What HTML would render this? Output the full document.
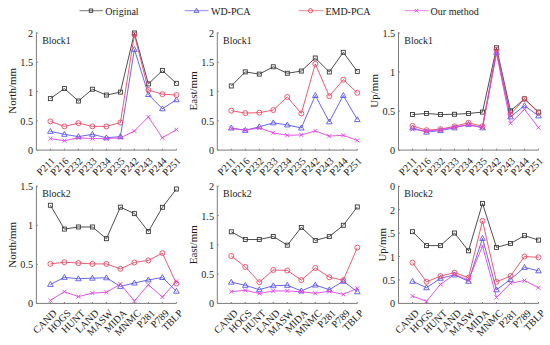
<!DOCTYPE html>
<html><head><meta charset="utf-8"><style>
html,body{margin:0;padding:0;background:#fff;}
body{width:550px;height:345px;overflow:hidden;}
svg{display:block;}
text{font-family:"Liberation Serif", serif;font-size:10.2px;fill:#1a1a1a;}
.yl{font-size:11px;}
.lg{font-size:10px;}
.bk{font-size:9.9px;}
</style></head><body>
<svg width="550" height="345" viewBox="0 0 550 345">
<rect width="550" height="345" fill="#fff"/>
<path d="M36.4 32.4V150.1H176.4" fill="none" stroke="#7c7c7c" stroke-width="1"/>
<path d="M36.4 150.1H37.8" stroke="#7c7c7c" stroke-width="1"/>
<text x="33.1" y="154.1" text-anchor="end">0</text>
<path d="M36.4 120.82H37.8" stroke="#7c7c7c" stroke-width="1"/>
<text x="33.1" y="124.82" text-anchor="end">0.5</text>
<path d="M36.4 91.55H37.8" stroke="#7c7c7c" stroke-width="1"/>
<text x="33.1" y="95.55" text-anchor="end">1</text>
<path d="M36.4 62.28H37.8" stroke="#7c7c7c" stroke-width="1"/>
<text x="33.1" y="66.28" text-anchor="end">1.5</text>
<path d="M36.4 33H37.8" stroke="#7c7c7c" stroke-width="1"/>
<text x="33.1" y="37" text-anchor="end">2</text>
<path d="M50.4 150.1V148.7" stroke="#7c7c7c" stroke-width="1"/>
<text x="55.4" y="161.7" text-anchor="end" transform="rotate(-45 55.4 161.7)">P211</text>
<path d="M64.4 150.1V148.7" stroke="#7c7c7c" stroke-width="1"/>
<text x="69.4" y="161.7" text-anchor="end" transform="rotate(-45 69.4 161.7)">P216</text>
<path d="M78.4 150.1V148.7" stroke="#7c7c7c" stroke-width="1"/>
<text x="83.4" y="161.7" text-anchor="end" transform="rotate(-45 83.4 161.7)">P232</text>
<path d="M92.4 150.1V148.7" stroke="#7c7c7c" stroke-width="1"/>
<text x="97.4" y="161.7" text-anchor="end" transform="rotate(-45 97.4 161.7)">P233</text>
<path d="M106.4 150.1V148.7" stroke="#7c7c7c" stroke-width="1"/>
<text x="111.4" y="161.7" text-anchor="end" transform="rotate(-45 111.4 161.7)">P234</text>
<path d="M120.4 150.1V148.7" stroke="#7c7c7c" stroke-width="1"/>
<text x="125.4" y="161.7" text-anchor="end" transform="rotate(-45 125.4 161.7)">P235</text>
<path d="M134.4 150.1V148.7" stroke="#7c7c7c" stroke-width="1"/>
<text x="139.4" y="161.7" text-anchor="end" transform="rotate(-45 139.4 161.7)">P242</text>
<path d="M148.4 150.1V148.7" stroke="#7c7c7c" stroke-width="1"/>
<text x="153.4" y="161.7" text-anchor="end" transform="rotate(-45 153.4 161.7)">P243</text>
<path d="M162.4 150.1V148.7" stroke="#7c7c7c" stroke-width="1"/>
<text x="167.4" y="161.7" text-anchor="end" transform="rotate(-45 167.4 161.7)">P244</text>
<path d="M176.4 150.1V148.7" stroke="#7c7c7c" stroke-width="1"/>
<text x="181.4" y="161.7" text-anchor="end" transform="rotate(-45 181.4 161.7)">P251</text>
<text class="yl" x="15.9" y="90.85" text-anchor="middle" transform="rotate(-90 15.9 90.85)">North/mm</text>
<text class="bk" x="42.2" y="43.6">Block1</text>
<path d="M50.4 98.63L64.4 88.56L78.4 101.04L92.4 89.21L106.4 95.06L120.4 92.14L134.4 33L148.4 83.94L162.4 70.47L176.4 83.35" fill="none" stroke="#3a3a3a" stroke-width="0.9"/>
<rect x="48.4" y="96.63" width="4" height="4" fill="none" stroke="#3a3a3a" stroke-width="0.9"/>
<rect x="62.4" y="86.56" width="4" height="4" fill="none" stroke="#3a3a3a" stroke-width="0.9"/>
<rect x="76.4" y="99.04" width="4" height="4" fill="none" stroke="#3a3a3a" stroke-width="0.9"/>
<rect x="90.4" y="87.21" width="4" height="4" fill="none" stroke="#3a3a3a" stroke-width="0.9"/>
<rect x="104.4" y="93.06" width="4" height="4" fill="none" stroke="#3a3a3a" stroke-width="0.9"/>
<rect x="118.4" y="90.14" width="4" height="4" fill="none" stroke="#3a3a3a" stroke-width="0.9"/>
<rect x="132.4" y="31" width="4" height="4" fill="none" stroke="#3a3a3a" stroke-width="0.9"/>
<rect x="146.4" y="81.94" width="4" height="4" fill="none" stroke="#3a3a3a" stroke-width="0.9"/>
<rect x="160.4" y="68.47" width="4" height="4" fill="none" stroke="#3a3a3a" stroke-width="0.9"/>
<rect x="174.4" y="81.35" width="4" height="4" fill="none" stroke="#3a3a3a" stroke-width="0.9"/>
<path d="M50.4 131.36L64.4 134.29L78.4 136.63L92.4 134.29L106.4 137.8L120.4 136.63L134.4 49.39L148.4 94.48L162.4 108.76L176.4 99.75" fill="none" stroke="#5a56e8" stroke-width="0.9"/>
<path d="M50.4 128.46L53.2 133.36L47.6 133.36Z" fill="none" stroke="#5a56e8" stroke-width="0.9"/>
<path d="M64.4 131.39L67.2 136.29L61.6 136.29Z" fill="none" stroke="#5a56e8" stroke-width="0.9"/>
<path d="M78.4 133.73L81.2 138.63L75.6 138.63Z" fill="none" stroke="#5a56e8" stroke-width="0.9"/>
<path d="M92.4 131.39L95.2 136.29L89.6 136.29Z" fill="none" stroke="#5a56e8" stroke-width="0.9"/>
<path d="M106.4 134.9L109.2 139.8L103.6 139.8Z" fill="none" stroke="#5a56e8" stroke-width="0.9"/>
<path d="M120.4 133.73L123.2 138.63L117.6 138.63Z" fill="none" stroke="#5a56e8" stroke-width="0.9"/>
<path d="M134.4 46.49L137.2 51.39L131.6 51.39Z" fill="none" stroke="#5a56e8" stroke-width="0.9"/>
<path d="M148.4 91.58L151.2 96.48L145.6 96.48Z" fill="none" stroke="#5a56e8" stroke-width="0.9"/>
<path d="M162.4 105.86L165.2 110.76L159.6 110.76Z" fill="none" stroke="#5a56e8" stroke-width="0.9"/>
<path d="M176.4 96.85L179.2 101.75L173.6 101.75Z" fill="none" stroke="#5a56e8" stroke-width="0.9"/>
<path d="M50.4 121.41L64.4 126.39L78.4 123.17L92.4 126.39L106.4 126.39L120.4 122.58L134.4 34.76L148.4 90.03L162.4 94.18L176.4 95.06" fill="none" stroke="#e64a64" stroke-width="0.9"/>
<circle cx="50.4" cy="121.41" r="2.5" fill="none" stroke="#e64a64" stroke-width="0.9"/>
<circle cx="64.4" cy="126.39" r="2.5" fill="none" stroke="#e64a64" stroke-width="0.9"/>
<circle cx="78.4" cy="123.17" r="2.5" fill="none" stroke="#e64a64" stroke-width="0.9"/>
<circle cx="92.4" cy="126.39" r="2.5" fill="none" stroke="#e64a64" stroke-width="0.9"/>
<circle cx="106.4" cy="126.39" r="2.5" fill="none" stroke="#e64a64" stroke-width="0.9"/>
<circle cx="120.4" cy="122.58" r="2.5" fill="none" stroke="#e64a64" stroke-width="0.9"/>
<circle cx="134.4" cy="34.76" r="2.5" fill="none" stroke="#e64a64" stroke-width="0.9"/>
<circle cx="148.4" cy="90.03" r="2.5" fill="none" stroke="#e64a64" stroke-width="0.9"/>
<circle cx="162.4" cy="94.18" r="2.5" fill="none" stroke="#e64a64" stroke-width="0.9"/>
<circle cx="176.4" cy="95.06" r="2.5" fill="none" stroke="#e64a64" stroke-width="0.9"/>
<path d="M50.4 138.57L64.4 140.73L78.4 137.8L92.4 138.57L106.4 138.57L120.4 137.8L134.4 131.07L148.4 116.9L162.4 137.8L176.4 129.61" fill="none" stroke="#dc44e0" stroke-width="0.9"/>
<path d="M48.4 136.57L52.4 140.57M52.4 136.57L48.4 140.57" stroke="#dc44e0" stroke-width="0.9"/>
<path d="M62.4 138.73L66.4 142.73M66.4 138.73L62.4 142.73" stroke="#dc44e0" stroke-width="0.9"/>
<path d="M76.4 135.8L80.4 139.8M80.4 135.8L76.4 139.8" stroke="#dc44e0" stroke-width="0.9"/>
<path d="M90.4 136.57L94.4 140.57M94.4 136.57L90.4 140.57" stroke="#dc44e0" stroke-width="0.9"/>
<path d="M104.4 136.57L108.4 140.57M108.4 136.57L104.4 140.57" stroke="#dc44e0" stroke-width="0.9"/>
<path d="M118.4 135.8L122.4 139.8M122.4 135.8L118.4 139.8" stroke="#dc44e0" stroke-width="0.9"/>
<path d="M132.4 129.07L136.4 133.07M136.4 129.07L132.4 133.07" stroke="#dc44e0" stroke-width="0.9"/>
<path d="M146.4 114.9L150.4 118.9M150.4 114.9L146.4 118.9" stroke="#dc44e0" stroke-width="0.9"/>
<path d="M160.4 135.8L164.4 139.8M164.4 135.8L160.4 139.8" stroke="#dc44e0" stroke-width="0.9"/>
<path d="M174.4 127.61L178.4 131.61M178.4 127.61L174.4 131.61" stroke="#dc44e0" stroke-width="0.9"/>
<path d="M217.3 32.4V150.1H357.3" fill="none" stroke="#7c7c7c" stroke-width="1"/>
<path d="M217.3 150.1H218.7" stroke="#7c7c7c" stroke-width="1"/>
<text x="214" y="154.1" text-anchor="end">0</text>
<path d="M217.3 120.82H218.7" stroke="#7c7c7c" stroke-width="1"/>
<text x="214" y="124.82" text-anchor="end">0.5</text>
<path d="M217.3 91.55H218.7" stroke="#7c7c7c" stroke-width="1"/>
<text x="214" y="95.55" text-anchor="end">1</text>
<path d="M217.3 62.28H218.7" stroke="#7c7c7c" stroke-width="1"/>
<text x="214" y="66.28" text-anchor="end">1.5</text>
<path d="M217.3 33H218.7" stroke="#7c7c7c" stroke-width="1"/>
<text x="214" y="37" text-anchor="end">2</text>
<path d="M231.3 150.1V148.7" stroke="#7c7c7c" stroke-width="1"/>
<text x="236.3" y="161.7" text-anchor="end" transform="rotate(-45 236.3 161.7)">P211</text>
<path d="M245.3 150.1V148.7" stroke="#7c7c7c" stroke-width="1"/>
<text x="250.3" y="161.7" text-anchor="end" transform="rotate(-45 250.3 161.7)">P216</text>
<path d="M259.3 150.1V148.7" stroke="#7c7c7c" stroke-width="1"/>
<text x="264.3" y="161.7" text-anchor="end" transform="rotate(-45 264.3 161.7)">P232</text>
<path d="M273.3 150.1V148.7" stroke="#7c7c7c" stroke-width="1"/>
<text x="278.3" y="161.7" text-anchor="end" transform="rotate(-45 278.3 161.7)">P233</text>
<path d="M287.3 150.1V148.7" stroke="#7c7c7c" stroke-width="1"/>
<text x="292.3" y="161.7" text-anchor="end" transform="rotate(-45 292.3 161.7)">P234</text>
<path d="M301.3 150.1V148.7" stroke="#7c7c7c" stroke-width="1"/>
<text x="306.3" y="161.7" text-anchor="end" transform="rotate(-45 306.3 161.7)">P235</text>
<path d="M315.3 150.1V148.7" stroke="#7c7c7c" stroke-width="1"/>
<text x="320.3" y="161.7" text-anchor="end" transform="rotate(-45 320.3 161.7)">P242</text>
<path d="M329.3 150.1V148.7" stroke="#7c7c7c" stroke-width="1"/>
<text x="334.3" y="161.7" text-anchor="end" transform="rotate(-45 334.3 161.7)">P243</text>
<path d="M343.3 150.1V148.7" stroke="#7c7c7c" stroke-width="1"/>
<text x="348.3" y="161.7" text-anchor="end" transform="rotate(-45 348.3 161.7)">P244</text>
<path d="M357.3 150.1V148.7" stroke="#7c7c7c" stroke-width="1"/>
<text x="362.3" y="161.7" text-anchor="end" transform="rotate(-45 362.3 161.7)">P251</text>
<text class="yl" x="196.8" y="90.85" text-anchor="middle" transform="rotate(-90 196.8 90.85)">East/mm</text>
<text class="bk" x="223.1" y="43.6">Block1</text>
<path d="M231.3 85.99L245.3 71.88L259.3 74.1L273.3 66.78L287.3 73.28L301.3 71.06L315.3 58L329.3 71.99L343.3 52.32L357.3 71.41" fill="none" stroke="#3a3a3a" stroke-width="0.9"/>
<rect x="229.3" y="83.99" width="4" height="4" fill="none" stroke="#3a3a3a" stroke-width="0.9"/>
<rect x="243.3" y="69.88" width="4" height="4" fill="none" stroke="#3a3a3a" stroke-width="0.9"/>
<rect x="257.3" y="72.1" width="4" height="4" fill="none" stroke="#3a3a3a" stroke-width="0.9"/>
<rect x="271.3" y="64.78" width="4" height="4" fill="none" stroke="#3a3a3a" stroke-width="0.9"/>
<rect x="285.3" y="71.28" width="4" height="4" fill="none" stroke="#3a3a3a" stroke-width="0.9"/>
<rect x="299.3" y="69.06" width="4" height="4" fill="none" stroke="#3a3a3a" stroke-width="0.9"/>
<rect x="313.3" y="56" width="4" height="4" fill="none" stroke="#3a3a3a" stroke-width="0.9"/>
<rect x="327.3" y="69.99" width="4" height="4" fill="none" stroke="#3a3a3a" stroke-width="0.9"/>
<rect x="341.3" y="50.32" width="4" height="4" fill="none" stroke="#3a3a3a" stroke-width="0.9"/>
<rect x="355.3" y="69.41" width="4" height="4" fill="none" stroke="#3a3a3a" stroke-width="0.9"/>
<path d="M231.3 128.03L245.3 130.31L259.3 126.8L273.3 122.82L287.3 124.92L301.3 127.97L315.3 95.47L329.3 121.82L343.3 95.47L357.3 119.6" fill="none" stroke="#5a56e8" stroke-width="0.9"/>
<path d="M231.3 125.13L234.1 130.03L228.5 130.03Z" fill="none" stroke="#5a56e8" stroke-width="0.9"/>
<path d="M245.3 127.41L248.1 132.31L242.5 132.31Z" fill="none" stroke="#5a56e8" stroke-width="0.9"/>
<path d="M259.3 123.9L262.1 128.8L256.5 128.8Z" fill="none" stroke="#5a56e8" stroke-width="0.9"/>
<path d="M273.3 119.92L276.1 124.82L270.5 124.82Z" fill="none" stroke="#5a56e8" stroke-width="0.9"/>
<path d="M287.3 122.02L290.1 126.92L284.5 126.92Z" fill="none" stroke="#5a56e8" stroke-width="0.9"/>
<path d="M301.3 125.07L304.1 129.97L298.5 129.97Z" fill="none" stroke="#5a56e8" stroke-width="0.9"/>
<path d="M315.3 92.57L318.1 97.47L312.5 97.47Z" fill="none" stroke="#5a56e8" stroke-width="0.9"/>
<path d="M329.3 118.92L332.1 123.82L326.5 123.82Z" fill="none" stroke="#5a56e8" stroke-width="0.9"/>
<path d="M343.3 92.57L346.1 97.47L340.5 97.47Z" fill="none" stroke="#5a56e8" stroke-width="0.9"/>
<path d="M357.3 116.7L360.1 121.6L354.5 121.6Z" fill="none" stroke="#5a56e8" stroke-width="0.9"/>
<path d="M231.3 110.7L245.3 113.1L259.3 112.63L273.3 110.05L287.3 96.94L301.3 113.45L315.3 63.91L329.3 96.18L343.3 79.72L357.3 92.84" fill="none" stroke="#e64a64" stroke-width="0.9"/>
<circle cx="231.3" cy="110.7" r="2.5" fill="none" stroke="#e64a64" stroke-width="0.9"/>
<circle cx="245.3" cy="113.1" r="2.5" fill="none" stroke="#e64a64" stroke-width="0.9"/>
<circle cx="259.3" cy="112.63" r="2.5" fill="none" stroke="#e64a64" stroke-width="0.9"/>
<circle cx="273.3" cy="110.05" r="2.5" fill="none" stroke="#e64a64" stroke-width="0.9"/>
<circle cx="287.3" cy="96.94" r="2.5" fill="none" stroke="#e64a64" stroke-width="0.9"/>
<circle cx="301.3" cy="113.45" r="2.5" fill="none" stroke="#e64a64" stroke-width="0.9"/>
<circle cx="315.3" cy="63.91" r="2.5" fill="none" stroke="#e64a64" stroke-width="0.9"/>
<circle cx="329.3" cy="96.18" r="2.5" fill="none" stroke="#e64a64" stroke-width="0.9"/>
<circle cx="343.3" cy="79.72" r="2.5" fill="none" stroke="#e64a64" stroke-width="0.9"/>
<circle cx="357.3" cy="92.84" r="2.5" fill="none" stroke="#e64a64" stroke-width="0.9"/>
<path d="M231.3 128.44L245.3 130.19L259.3 127.85L273.3 132.89L287.3 135.29L301.3 134.94L315.3 130.9L329.3 136.11L343.3 135.23L357.3 140.38" fill="none" stroke="#dc44e0" stroke-width="0.9"/>
<path d="M229.3 126.44L233.3 130.44M233.3 126.44L229.3 130.44" stroke="#dc44e0" stroke-width="0.9"/>
<path d="M243.3 128.19L247.3 132.19M247.3 128.19L243.3 132.19" stroke="#dc44e0" stroke-width="0.9"/>
<path d="M257.3 125.85L261.3 129.85M261.3 125.85L257.3 129.85" stroke="#dc44e0" stroke-width="0.9"/>
<path d="M271.3 130.89L275.3 134.89M275.3 130.89L271.3 134.89" stroke="#dc44e0" stroke-width="0.9"/>
<path d="M285.3 133.29L289.3 137.29M289.3 133.29L285.3 137.29" stroke="#dc44e0" stroke-width="0.9"/>
<path d="M299.3 132.94L303.3 136.94M303.3 132.94L299.3 136.94" stroke="#dc44e0" stroke-width="0.9"/>
<path d="M313.3 128.9L317.3 132.9M317.3 128.9L313.3 132.9" stroke="#dc44e0" stroke-width="0.9"/>
<path d="M327.3 134.11L331.3 138.11M331.3 134.11L327.3 138.11" stroke="#dc44e0" stroke-width="0.9"/>
<path d="M341.3 133.23L345.3 137.23M345.3 133.23L341.3 137.23" stroke="#dc44e0" stroke-width="0.9"/>
<path d="M355.3 138.38L359.3 142.38M359.3 138.38L355.3 142.38" stroke="#dc44e0" stroke-width="0.9"/>
<path d="M398.5 32.4V150.1H538.5" fill="none" stroke="#7c7c7c" stroke-width="1"/>
<path d="M398.5 150.1H399.9" stroke="#7c7c7c" stroke-width="1"/>
<text x="395.2" y="154.1" text-anchor="end">0</text>
<path d="M398.5 111.07H399.9" stroke="#7c7c7c" stroke-width="1"/>
<text x="395.2" y="115.07" text-anchor="end">0.5</text>
<path d="M398.5 72.03H399.9" stroke="#7c7c7c" stroke-width="1"/>
<text x="395.2" y="76.03" text-anchor="end">1</text>
<path d="M398.5 33H399.9" stroke="#7c7c7c" stroke-width="1"/>
<text x="395.2" y="37" text-anchor="end">1.5</text>
<path d="M412.5 150.1V148.7" stroke="#7c7c7c" stroke-width="1"/>
<text x="417.5" y="161.7" text-anchor="end" transform="rotate(-45 417.5 161.7)">P211</text>
<path d="M426.5 150.1V148.7" stroke="#7c7c7c" stroke-width="1"/>
<text x="431.5" y="161.7" text-anchor="end" transform="rotate(-45 431.5 161.7)">P216</text>
<path d="M440.5 150.1V148.7" stroke="#7c7c7c" stroke-width="1"/>
<text x="445.5" y="161.7" text-anchor="end" transform="rotate(-45 445.5 161.7)">P232</text>
<path d="M454.5 150.1V148.7" stroke="#7c7c7c" stroke-width="1"/>
<text x="459.5" y="161.7" text-anchor="end" transform="rotate(-45 459.5 161.7)">P233</text>
<path d="M468.5 150.1V148.7" stroke="#7c7c7c" stroke-width="1"/>
<text x="473.5" y="161.7" text-anchor="end" transform="rotate(-45 473.5 161.7)">P234</text>
<path d="M482.5 150.1V148.7" stroke="#7c7c7c" stroke-width="1"/>
<text x="487.5" y="161.7" text-anchor="end" transform="rotate(-45 487.5 161.7)">P235</text>
<path d="M496.5 150.1V148.7" stroke="#7c7c7c" stroke-width="1"/>
<text x="501.5" y="161.7" text-anchor="end" transform="rotate(-45 501.5 161.7)">P242</text>
<path d="M510.5 150.1V148.7" stroke="#7c7c7c" stroke-width="1"/>
<text x="515.5" y="161.7" text-anchor="end" transform="rotate(-45 515.5 161.7)">P243</text>
<path d="M524.5 150.1V148.7" stroke="#7c7c7c" stroke-width="1"/>
<text x="529.5" y="161.7" text-anchor="end" transform="rotate(-45 529.5 161.7)">P244</text>
<path d="M538.5 150.1V148.7" stroke="#7c7c7c" stroke-width="1"/>
<text x="543.5" y="161.7" text-anchor="end" transform="rotate(-45 543.5 161.7)">P251</text>
<text class="yl" x="378" y="90.85" text-anchor="middle" transform="rotate(-90 378 90.85)">Up/mm</text>
<text class="bk" x="404.3" y="43.6">Block1</text>
<path d="M412.5 114.5L426.5 113.49L440.5 114.5L454.5 114.27L468.5 113.49L482.5 112.08L496.5 47.75L510.5 110.83L524.5 98.89L538.5 112.08" fill="none" stroke="#3a3a3a" stroke-width="0.9"/>
<rect x="410.5" y="112.5" width="4" height="4" fill="none" stroke="#3a3a3a" stroke-width="0.9"/>
<rect x="424.5" y="111.49" width="4" height="4" fill="none" stroke="#3a3a3a" stroke-width="0.9"/>
<rect x="438.5" y="112.5" width="4" height="4" fill="none" stroke="#3a3a3a" stroke-width="0.9"/>
<rect x="452.5" y="112.27" width="4" height="4" fill="none" stroke="#3a3a3a" stroke-width="0.9"/>
<rect x="466.5" y="111.49" width="4" height="4" fill="none" stroke="#3a3a3a" stroke-width="0.9"/>
<rect x="480.5" y="110.08" width="4" height="4" fill="none" stroke="#3a3a3a" stroke-width="0.9"/>
<rect x="494.5" y="45.75" width="4" height="4" fill="none" stroke="#3a3a3a" stroke-width="0.9"/>
<rect x="508.5" y="108.83" width="4" height="4" fill="none" stroke="#3a3a3a" stroke-width="0.9"/>
<rect x="522.5" y="96.89" width="4" height="4" fill="none" stroke="#3a3a3a" stroke-width="0.9"/>
<rect x="536.5" y="110.08" width="4" height="4" fill="none" stroke="#3a3a3a" stroke-width="0.9"/>
<path d="M412.5 127.85L426.5 132.14L440.5 130.58L454.5 127.85L468.5 124.34L482.5 127.85L496.5 52.36L510.5 116.92L524.5 105.68L538.5 115.91" fill="none" stroke="#5a56e8" stroke-width="0.9"/>
<path d="M412.5 124.95L415.3 129.85L409.7 129.85Z" fill="none" stroke="#5a56e8" stroke-width="0.9"/>
<path d="M426.5 129.24L429.3 134.14L423.7 134.14Z" fill="none" stroke="#5a56e8" stroke-width="0.9"/>
<path d="M440.5 127.68L443.3 132.58L437.7 132.58Z" fill="none" stroke="#5a56e8" stroke-width="0.9"/>
<path d="M454.5 124.95L457.3 129.85L451.7 129.85Z" fill="none" stroke="#5a56e8" stroke-width="0.9"/>
<path d="M468.5 121.44L471.3 126.34L465.7 126.34Z" fill="none" stroke="#5a56e8" stroke-width="0.9"/>
<path d="M482.5 124.95L485.3 129.85L479.7 129.85Z" fill="none" stroke="#5a56e8" stroke-width="0.9"/>
<path d="M496.5 49.46L499.3 54.36L493.7 54.36Z" fill="none" stroke="#5a56e8" stroke-width="0.9"/>
<path d="M510.5 114.02L513.3 118.92L507.7 118.92Z" fill="none" stroke="#5a56e8" stroke-width="0.9"/>
<path d="M524.5 102.78L527.3 107.68L521.7 107.68Z" fill="none" stroke="#5a56e8" stroke-width="0.9"/>
<path d="M538.5 113.01L541.3 117.91L535.7 117.91Z" fill="none" stroke="#5a56e8" stroke-width="0.9"/>
<path d="M412.5 125.9L426.5 130.19L440.5 129.18L454.5 126.29L468.5 122.78L482.5 126.29L496.5 49.63L510.5 114.35L524.5 98.89L538.5 112.78" fill="none" stroke="#e64a64" stroke-width="0.9"/>
<circle cx="412.5" cy="125.9" r="2.5" fill="none" stroke="#e64a64" stroke-width="0.9"/>
<circle cx="426.5" cy="130.19" r="2.5" fill="none" stroke="#e64a64" stroke-width="0.9"/>
<circle cx="440.5" cy="129.18" r="2.5" fill="none" stroke="#e64a64" stroke-width="0.9"/>
<circle cx="454.5" cy="126.29" r="2.5" fill="none" stroke="#e64a64" stroke-width="0.9"/>
<circle cx="468.5" cy="122.78" r="2.5" fill="none" stroke="#e64a64" stroke-width="0.9"/>
<circle cx="482.5" cy="126.29" r="2.5" fill="none" stroke="#e64a64" stroke-width="0.9"/>
<circle cx="496.5" cy="49.63" r="2.5" fill="none" stroke="#e64a64" stroke-width="0.9"/>
<circle cx="510.5" cy="114.35" r="2.5" fill="none" stroke="#e64a64" stroke-width="0.9"/>
<circle cx="524.5" cy="98.89" r="2.5" fill="none" stroke="#e64a64" stroke-width="0.9"/>
<circle cx="538.5" cy="112.78" r="2.5" fill="none" stroke="#e64a64" stroke-width="0.9"/>
<path d="M412.5 129.41L426.5 130.97L440.5 129.8L454.5 126.91L468.5 125.12L482.5 127.46L496.5 53.06L510.5 123.32L524.5 109.27L538.5 127.62" fill="none" stroke="#dc44e0" stroke-width="0.9"/>
<path d="M410.5 127.41L414.5 131.41M414.5 127.41L410.5 131.41" stroke="#dc44e0" stroke-width="0.9"/>
<path d="M424.5 128.97L428.5 132.97M428.5 128.97L424.5 132.97" stroke="#dc44e0" stroke-width="0.9"/>
<path d="M438.5 127.8L442.5 131.8M442.5 127.8L438.5 131.8" stroke="#dc44e0" stroke-width="0.9"/>
<path d="M452.5 124.91L456.5 128.91M456.5 124.91L452.5 128.91" stroke="#dc44e0" stroke-width="0.9"/>
<path d="M466.5 123.12L470.5 127.12M470.5 123.12L466.5 127.12" stroke="#dc44e0" stroke-width="0.9"/>
<path d="M480.5 125.46L484.5 129.46M484.5 125.46L480.5 129.46" stroke="#dc44e0" stroke-width="0.9"/>
<path d="M494.5 51.06L498.5 55.06M498.5 51.06L494.5 55.06" stroke="#dc44e0" stroke-width="0.9"/>
<path d="M508.5 121.32L512.5 125.32M512.5 121.32L508.5 125.32" stroke="#dc44e0" stroke-width="0.9"/>
<path d="M522.5 107.27L526.5 111.27M526.5 107.27L522.5 111.27" stroke="#dc44e0" stroke-width="0.9"/>
<path d="M536.5 125.62L540.5 129.62M540.5 125.62L536.5 129.62" stroke="#dc44e0" stroke-width="0.9"/>
<path d="M36.4 185.7V303.4H176.4" fill="none" stroke="#7c7c7c" stroke-width="1"/>
<path d="M36.4 303.4H37.8" stroke="#7c7c7c" stroke-width="1"/>
<text x="33.1" y="307.4" text-anchor="end">0</text>
<path d="M36.4 264.37H37.8" stroke="#7c7c7c" stroke-width="1"/>
<text x="33.1" y="268.37" text-anchor="end">0.5</text>
<path d="M36.4 225.33H37.8" stroke="#7c7c7c" stroke-width="1"/>
<text x="33.1" y="229.33" text-anchor="end">1</text>
<path d="M36.4 186.3H37.8" stroke="#7c7c7c" stroke-width="1"/>
<text x="33.1" y="190.3" text-anchor="end">1.5</text>
<path d="M50.4 303.4V302" stroke="#7c7c7c" stroke-width="1"/>
<text x="57.5" y="313.8" text-anchor="end" transform="rotate(-45 57.5 313.8)">CAND</text>
<path d="M64.4 303.4V302" stroke="#7c7c7c" stroke-width="1"/>
<text x="71.5" y="313.8" text-anchor="end" transform="rotate(-45 71.5 313.8)">HOGS</text>
<path d="M78.4 303.4V302" stroke="#7c7c7c" stroke-width="1"/>
<text x="85.5" y="313.8" text-anchor="end" transform="rotate(-45 85.5 313.8)">HUNT</text>
<path d="M92.4 303.4V302" stroke="#7c7c7c" stroke-width="1"/>
<text x="99.5" y="313.8" text-anchor="end" transform="rotate(-45 99.5 313.8)">LAND</text>
<path d="M106.4 303.4V302" stroke="#7c7c7c" stroke-width="1"/>
<text x="113.5" y="313.8" text-anchor="end" transform="rotate(-45 113.5 313.8)">MASW</text>
<path d="M120.4 303.4V302" stroke="#7c7c7c" stroke-width="1"/>
<text x="127.5" y="313.8" text-anchor="end" transform="rotate(-45 127.5 313.8)">MIDA</text>
<path d="M134.4 303.4V302" stroke="#7c7c7c" stroke-width="1"/>
<text x="141.5" y="313.8" text-anchor="end" transform="rotate(-45 141.5 313.8)">MNMC</text>
<path d="M148.4 303.4V302" stroke="#7c7c7c" stroke-width="1"/>
<text x="155.5" y="313.8" text-anchor="end" transform="rotate(-45 155.5 313.8)">P281</text>
<path d="M162.4 303.4V302" stroke="#7c7c7c" stroke-width="1"/>
<text x="169.5" y="313.8" text-anchor="end" transform="rotate(-45 169.5 313.8)">P789</text>
<path d="M176.4 303.4V302" stroke="#7c7c7c" stroke-width="1"/>
<text x="183.5" y="313.8" text-anchor="end" transform="rotate(-45 183.5 313.8)">TBLP</text>
<text class="yl" x="15.9" y="244.75" text-anchor="middle" transform="rotate(-90 15.9 244.75)">North/mm</text>
<text class="bk" x="42.2" y="196.9">Block2</text>
<path d="M50.4 205.27L64.4 229.08L78.4 226.97L92.4 226.97L106.4 238.68L120.4 207.14L134.4 213.62L148.4 231.5L162.4 207.3L176.4 189.03" fill="none" stroke="#3a3a3a" stroke-width="0.9"/>
<rect x="48.4" y="203.27" width="4" height="4" fill="none" stroke="#3a3a3a" stroke-width="0.9"/>
<rect x="62.4" y="227.08" width="4" height="4" fill="none" stroke="#3a3a3a" stroke-width="0.9"/>
<rect x="76.4" y="224.97" width="4" height="4" fill="none" stroke="#3a3a3a" stroke-width="0.9"/>
<rect x="90.4" y="224.97" width="4" height="4" fill="none" stroke="#3a3a3a" stroke-width="0.9"/>
<rect x="104.4" y="236.68" width="4" height="4" fill="none" stroke="#3a3a3a" stroke-width="0.9"/>
<rect x="118.4" y="205.14" width="4" height="4" fill="none" stroke="#3a3a3a" stroke-width="0.9"/>
<rect x="132.4" y="211.62" width="4" height="4" fill="none" stroke="#3a3a3a" stroke-width="0.9"/>
<rect x="146.4" y="229.5" width="4" height="4" fill="none" stroke="#3a3a3a" stroke-width="0.9"/>
<rect x="160.4" y="205.3" width="4" height="4" fill="none" stroke="#3a3a3a" stroke-width="0.9"/>
<rect x="174.4" y="187.03" width="4" height="4" fill="none" stroke="#3a3a3a" stroke-width="0.9"/>
<path d="M50.4 284.43L64.4 277.33L78.4 278.73L92.4 278.18L106.4 277.79L120.4 286.38L134.4 283.02L148.4 279.9L162.4 277.48L176.4 291.22" fill="none" stroke="#5a56e8" stroke-width="0.9"/>
<path d="M50.4 281.53L53.2 286.43L47.6 286.43Z" fill="none" stroke="#5a56e8" stroke-width="0.9"/>
<path d="M64.4 274.43L67.2 279.33L61.6 279.33Z" fill="none" stroke="#5a56e8" stroke-width="0.9"/>
<path d="M78.4 275.83L81.2 280.73L75.6 280.73Z" fill="none" stroke="#5a56e8" stroke-width="0.9"/>
<path d="M92.4 275.28L95.2 280.18L89.6 280.18Z" fill="none" stroke="#5a56e8" stroke-width="0.9"/>
<path d="M106.4 274.89L109.2 279.79L103.6 279.79Z" fill="none" stroke="#5a56e8" stroke-width="0.9"/>
<path d="M120.4 283.48L123.2 288.38L117.6 288.38Z" fill="none" stroke="#5a56e8" stroke-width="0.9"/>
<path d="M134.4 280.12L137.2 285.02L131.6 285.02Z" fill="none" stroke="#5a56e8" stroke-width="0.9"/>
<path d="M148.4 277L151.2 281.9L145.6 281.9Z" fill="none" stroke="#5a56e8" stroke-width="0.9"/>
<path d="M162.4 274.58L165.2 279.48L159.6 279.48Z" fill="none" stroke="#5a56e8" stroke-width="0.9"/>
<path d="M176.4 288.32L179.2 293.22L173.6 293.22Z" fill="none" stroke="#5a56e8" stroke-width="0.9"/>
<path d="M50.4 263.9L64.4 262.18L78.4 263.04L92.4 263.9L106.4 263.9L120.4 268.82L134.4 262.49L148.4 260.39L162.4 253.13L176.4 283.57" fill="none" stroke="#e64a64" stroke-width="0.9"/>
<circle cx="50.4" cy="263.9" r="2.5" fill="none" stroke="#e64a64" stroke-width="0.9"/>
<circle cx="64.4" cy="262.18" r="2.5" fill="none" stroke="#e64a64" stroke-width="0.9"/>
<circle cx="78.4" cy="263.04" r="2.5" fill="none" stroke="#e64a64" stroke-width="0.9"/>
<circle cx="92.4" cy="263.9" r="2.5" fill="none" stroke="#e64a64" stroke-width="0.9"/>
<circle cx="106.4" cy="263.9" r="2.5" fill="none" stroke="#e64a64" stroke-width="0.9"/>
<circle cx="120.4" cy="268.82" r="2.5" fill="none" stroke="#e64a64" stroke-width="0.9"/>
<circle cx="134.4" cy="262.49" r="2.5" fill="none" stroke="#e64a64" stroke-width="0.9"/>
<circle cx="148.4" cy="260.39" r="2.5" fill="none" stroke="#e64a64" stroke-width="0.9"/>
<circle cx="162.4" cy="253.13" r="2.5" fill="none" stroke="#e64a64" stroke-width="0.9"/>
<circle cx="176.4" cy="283.57" r="2.5" fill="none" stroke="#e64a64" stroke-width="0.9"/>
<path d="M50.4 300.43L64.4 291.69L78.4 296.61L92.4 293.1L106.4 292.31L120.4 284.12L134.4 300.98L148.4 284.82L162.4 297L176.4 281.31" fill="none" stroke="#dc44e0" stroke-width="0.9"/>
<path d="M48.4 298.43L52.4 302.43M52.4 298.43L48.4 302.43" stroke="#dc44e0" stroke-width="0.9"/>
<path d="M62.4 289.69L66.4 293.69M66.4 289.69L62.4 293.69" stroke="#dc44e0" stroke-width="0.9"/>
<path d="M76.4 294.61L80.4 298.61M80.4 294.61L76.4 298.61" stroke="#dc44e0" stroke-width="0.9"/>
<path d="M90.4 291.1L94.4 295.1M94.4 291.1L90.4 295.1" stroke="#dc44e0" stroke-width="0.9"/>
<path d="M104.4 290.31L108.4 294.31M108.4 290.31L104.4 294.31" stroke="#dc44e0" stroke-width="0.9"/>
<path d="M118.4 282.12L122.4 286.12M122.4 282.12L118.4 286.12" stroke="#dc44e0" stroke-width="0.9"/>
<path d="M132.4 298.98L136.4 302.98M136.4 298.98L132.4 302.98" stroke="#dc44e0" stroke-width="0.9"/>
<path d="M146.4 282.82L150.4 286.82M150.4 282.82L146.4 286.82" stroke="#dc44e0" stroke-width="0.9"/>
<path d="M160.4 295L164.4 299M164.4 295L160.4 299" stroke="#dc44e0" stroke-width="0.9"/>
<path d="M174.4 279.31L178.4 283.31M178.4 279.31L174.4 283.31" stroke="#dc44e0" stroke-width="0.9"/>
<path d="M217.3 185.7V303.4H357.3" fill="none" stroke="#7c7c7c" stroke-width="1"/>
<path d="M217.3 303.4H218.7" stroke="#7c7c7c" stroke-width="1"/>
<text x="214" y="307.4" text-anchor="end">0</text>
<path d="M217.3 274.12H218.7" stroke="#7c7c7c" stroke-width="1"/>
<text x="214" y="278.12" text-anchor="end">0.5</text>
<path d="M217.3 244.85H218.7" stroke="#7c7c7c" stroke-width="1"/>
<text x="214" y="248.85" text-anchor="end">1</text>
<path d="M217.3 215.57H218.7" stroke="#7c7c7c" stroke-width="1"/>
<text x="214" y="219.57" text-anchor="end">1.5</text>
<path d="M217.3 186.3H218.7" stroke="#7c7c7c" stroke-width="1"/>
<text x="214" y="190.3" text-anchor="end">2</text>
<path d="M231.3 303.4V302" stroke="#7c7c7c" stroke-width="1"/>
<text x="238.4" y="313.8" text-anchor="end" transform="rotate(-45 238.4 313.8)">CAND</text>
<path d="M245.3 303.4V302" stroke="#7c7c7c" stroke-width="1"/>
<text x="252.4" y="313.8" text-anchor="end" transform="rotate(-45 252.4 313.8)">HOGS</text>
<path d="M259.3 303.4V302" stroke="#7c7c7c" stroke-width="1"/>
<text x="266.4" y="313.8" text-anchor="end" transform="rotate(-45 266.4 313.8)">HUNT</text>
<path d="M273.3 303.4V302" stroke="#7c7c7c" stroke-width="1"/>
<text x="280.4" y="313.8" text-anchor="end" transform="rotate(-45 280.4 313.8)">LAND</text>
<path d="M287.3 303.4V302" stroke="#7c7c7c" stroke-width="1"/>
<text x="294.4" y="313.8" text-anchor="end" transform="rotate(-45 294.4 313.8)">MASW</text>
<path d="M301.3 303.4V302" stroke="#7c7c7c" stroke-width="1"/>
<text x="308.4" y="313.8" text-anchor="end" transform="rotate(-45 308.4 313.8)">MIDA</text>
<path d="M315.3 303.4V302" stroke="#7c7c7c" stroke-width="1"/>
<text x="322.4" y="313.8" text-anchor="end" transform="rotate(-45 322.4 313.8)">MNMC</text>
<path d="M329.3 303.4V302" stroke="#7c7c7c" stroke-width="1"/>
<text x="336.4" y="313.8" text-anchor="end" transform="rotate(-45 336.4 313.8)">P281</text>
<path d="M343.3 303.4V302" stroke="#7c7c7c" stroke-width="1"/>
<text x="350.4" y="313.8" text-anchor="end" transform="rotate(-45 350.4 313.8)">P789</text>
<path d="M357.3 303.4V302" stroke="#7c7c7c" stroke-width="1"/>
<text x="364.4" y="313.8" text-anchor="end" transform="rotate(-45 364.4 313.8)">TBLP</text>
<text class="yl" x="196.8" y="244.75" text-anchor="middle" transform="rotate(-90 196.8 244.75)">East/mm</text>
<text class="bk" x="223.1" y="196.9">Block2</text>
<path d="M231.3 231.79L245.3 239.52L259.3 239.52L273.3 236.48L287.3 245.2L301.3 227.4L315.3 240.4L329.3 236.59L343.3 225.29L357.3 206.91" fill="none" stroke="#3a3a3a" stroke-width="0.9"/>
<rect x="229.3" y="229.79" width="4" height="4" fill="none" stroke="#3a3a3a" stroke-width="0.9"/>
<rect x="243.3" y="237.52" width="4" height="4" fill="none" stroke="#3a3a3a" stroke-width="0.9"/>
<rect x="257.3" y="237.52" width="4" height="4" fill="none" stroke="#3a3a3a" stroke-width="0.9"/>
<rect x="271.3" y="234.48" width="4" height="4" fill="none" stroke="#3a3a3a" stroke-width="0.9"/>
<rect x="285.3" y="243.2" width="4" height="4" fill="none" stroke="#3a3a3a" stroke-width="0.9"/>
<rect x="299.3" y="225.4" width="4" height="4" fill="none" stroke="#3a3a3a" stroke-width="0.9"/>
<rect x="313.3" y="238.4" width="4" height="4" fill="none" stroke="#3a3a3a" stroke-width="0.9"/>
<rect x="327.3" y="234.59" width="4" height="4" fill="none" stroke="#3a3a3a" stroke-width="0.9"/>
<rect x="341.3" y="223.29" width="4" height="4" fill="none" stroke="#3a3a3a" stroke-width="0.9"/>
<rect x="355.3" y="204.91" width="4" height="4" fill="none" stroke="#3a3a3a" stroke-width="0.9"/>
<path d="M231.3 282.2L245.3 285.31L259.3 289.7L273.3 285.72L287.3 285.31L301.3 290.93L315.3 285.07L329.3 289.7L343.3 281.21L357.3 291.81" fill="none" stroke="#5a56e8" stroke-width="0.9"/>
<path d="M231.3 279.3L234.1 284.2L228.5 284.2Z" fill="none" stroke="#5a56e8" stroke-width="0.9"/>
<path d="M245.3 282.41L248.1 287.31L242.5 287.31Z" fill="none" stroke="#5a56e8" stroke-width="0.9"/>
<path d="M259.3 286.8L262.1 291.7L256.5 291.7Z" fill="none" stroke="#5a56e8" stroke-width="0.9"/>
<path d="M273.3 282.82L276.1 287.72L270.5 287.72Z" fill="none" stroke="#5a56e8" stroke-width="0.9"/>
<path d="M287.3 282.41L290.1 287.31L284.5 287.31Z" fill="none" stroke="#5a56e8" stroke-width="0.9"/>
<path d="M301.3 288.03L304.1 292.93L298.5 292.93Z" fill="none" stroke="#5a56e8" stroke-width="0.9"/>
<path d="M315.3 282.17L318.1 287.07L312.5 287.07Z" fill="none" stroke="#5a56e8" stroke-width="0.9"/>
<path d="M329.3 286.8L332.1 291.7L326.5 291.7Z" fill="none" stroke="#5a56e8" stroke-width="0.9"/>
<path d="M343.3 278.31L346.1 283.21L340.5 283.21Z" fill="none" stroke="#5a56e8" stroke-width="0.9"/>
<path d="M357.3 288.91L360.1 293.81L354.5 293.81Z" fill="none" stroke="#5a56e8" stroke-width="0.9"/>
<path d="M231.3 256.03L245.3 266.92L259.3 282.2L273.3 269.97L287.3 270.44L301.3 280.1L315.3 267.98L329.3 277.23L343.3 280.21L357.3 247.6" fill="none" stroke="#e64a64" stroke-width="0.9"/>
<circle cx="231.3" cy="256.03" r="2.5" fill="none" stroke="#e64a64" stroke-width="0.9"/>
<circle cx="245.3" cy="266.92" r="2.5" fill="none" stroke="#e64a64" stroke-width="0.9"/>
<circle cx="259.3" cy="282.2" r="2.5" fill="none" stroke="#e64a64" stroke-width="0.9"/>
<circle cx="273.3" cy="269.97" r="2.5" fill="none" stroke="#e64a64" stroke-width="0.9"/>
<circle cx="287.3" cy="270.44" r="2.5" fill="none" stroke="#e64a64" stroke-width="0.9"/>
<circle cx="301.3" cy="280.1" r="2.5" fill="none" stroke="#e64a64" stroke-width="0.9"/>
<circle cx="315.3" cy="267.98" r="2.5" fill="none" stroke="#e64a64" stroke-width="0.9"/>
<circle cx="329.3" cy="277.23" r="2.5" fill="none" stroke="#e64a64" stroke-width="0.9"/>
<circle cx="343.3" cy="280.21" r="2.5" fill="none" stroke="#e64a64" stroke-width="0.9"/>
<circle cx="357.3" cy="247.6" r="2.5" fill="none" stroke="#e64a64" stroke-width="0.9"/>
<path d="M231.3 291.69L245.3 290.28L259.3 293.51L273.3 290.93L287.3 290.93L301.3 291.81L315.3 293.21L329.3 291.4L343.3 294.38L357.3 288.29" fill="none" stroke="#dc44e0" stroke-width="0.9"/>
<path d="M229.3 289.69L233.3 293.69M233.3 289.69L229.3 293.69" stroke="#dc44e0" stroke-width="0.9"/>
<path d="M243.3 288.28L247.3 292.28M247.3 288.28L243.3 292.28" stroke="#dc44e0" stroke-width="0.9"/>
<path d="M257.3 291.51L261.3 295.51M261.3 291.51L257.3 295.51" stroke="#dc44e0" stroke-width="0.9"/>
<path d="M271.3 288.93L275.3 292.93M275.3 288.93L271.3 292.93" stroke="#dc44e0" stroke-width="0.9"/>
<path d="M285.3 288.93L289.3 292.93M289.3 288.93L285.3 292.93" stroke="#dc44e0" stroke-width="0.9"/>
<path d="M299.3 289.81L303.3 293.81M303.3 289.81L299.3 293.81" stroke="#dc44e0" stroke-width="0.9"/>
<path d="M313.3 291.21L317.3 295.21M317.3 291.21L313.3 295.21" stroke="#dc44e0" stroke-width="0.9"/>
<path d="M327.3 289.4L331.3 293.4M331.3 289.4L327.3 293.4" stroke="#dc44e0" stroke-width="0.9"/>
<path d="M341.3 292.38L345.3 296.38M345.3 292.38L341.3 296.38" stroke="#dc44e0" stroke-width="0.9"/>
<path d="M355.3 286.29L359.3 290.29M359.3 286.29L355.3 290.29" stroke="#dc44e0" stroke-width="0.9"/>
<path d="M398.5 185.7V303.4H538.5" fill="none" stroke="#7c7c7c" stroke-width="1"/>
<path d="M398.5 303.4H399.9" stroke="#7c7c7c" stroke-width="1"/>
<text x="395.2" y="307.4" text-anchor="end">0</text>
<path d="M398.5 279.98H399.9" stroke="#7c7c7c" stroke-width="1"/>
<text x="395.2" y="283.98" text-anchor="end">0.5</text>
<path d="M398.5 256.56H399.9" stroke="#7c7c7c" stroke-width="1"/>
<text x="395.2" y="260.56" text-anchor="end">1</text>
<path d="M398.5 233.14H399.9" stroke="#7c7c7c" stroke-width="1"/>
<text x="395.2" y="237.14" text-anchor="end">.5</text>
<path d="M398.5 209.72H399.9" stroke="#7c7c7c" stroke-width="1"/>
<text x="395.2" y="213.72" text-anchor="end">2</text>
<path d="M398.5 186.3H399.9" stroke="#7c7c7c" stroke-width="1"/>
<text x="395.2" y="190.3" text-anchor="end">0</text>
<path d="M412.5 303.4V302" stroke="#7c7c7c" stroke-width="1"/>
<text x="419.6" y="313.8" text-anchor="end" transform="rotate(-45 419.6 313.8)">CAND</text>
<path d="M426.5 303.4V302" stroke="#7c7c7c" stroke-width="1"/>
<text x="433.6" y="313.8" text-anchor="end" transform="rotate(-45 433.6 313.8)">HOGS</text>
<path d="M440.5 303.4V302" stroke="#7c7c7c" stroke-width="1"/>
<text x="447.6" y="313.8" text-anchor="end" transform="rotate(-45 447.6 313.8)">HUNT</text>
<path d="M454.5 303.4V302" stroke="#7c7c7c" stroke-width="1"/>
<text x="461.6" y="313.8" text-anchor="end" transform="rotate(-45 461.6 313.8)">LAND</text>
<path d="M468.5 303.4V302" stroke="#7c7c7c" stroke-width="1"/>
<text x="475.6" y="313.8" text-anchor="end" transform="rotate(-45 475.6 313.8)">MASW</text>
<path d="M482.5 303.4V302" stroke="#7c7c7c" stroke-width="1"/>
<text x="489.6" y="313.8" text-anchor="end" transform="rotate(-45 489.6 313.8)">MIDA</text>
<path d="M496.5 303.4V302" stroke="#7c7c7c" stroke-width="1"/>
<text x="503.6" y="313.8" text-anchor="end" transform="rotate(-45 503.6 313.8)">MNMC</text>
<path d="M510.5 303.4V302" stroke="#7c7c7c" stroke-width="1"/>
<text x="517.6" y="313.8" text-anchor="end" transform="rotate(-45 517.6 313.8)">P281</text>
<path d="M524.5 303.4V302" stroke="#7c7c7c" stroke-width="1"/>
<text x="531.6" y="313.8" text-anchor="end" transform="rotate(-45 531.6 313.8)">P789</text>
<path d="M538.5 303.4V302" stroke="#7c7c7c" stroke-width="1"/>
<text x="545.6" y="313.8" text-anchor="end" transform="rotate(-45 545.6 313.8)">TBLP</text>
<text class="yl" x="385.7" y="244.75" text-anchor="middle" transform="rotate(-90 385.7 244.75)">Up/mm</text>
<text class="bk" x="404.3" y="196.9">Block2</text>
<path d="M412.5 231.69L426.5 245.6L440.5 245.6L454.5 233L468.5 250.8L482.5 203.4L496.5 247.38L510.5 243.49L524.5 235.62L538.5 240.12" fill="none" stroke="#3a3a3a" stroke-width="0.9"/>
<rect x="410.5" y="229.69" width="4" height="4" fill="none" stroke="#3a3a3a" stroke-width="0.9"/>
<rect x="424.5" y="243.6" width="4" height="4" fill="none" stroke="#3a3a3a" stroke-width="0.9"/>
<rect x="438.5" y="243.6" width="4" height="4" fill="none" stroke="#3a3a3a" stroke-width="0.9"/>
<rect x="452.5" y="231" width="4" height="4" fill="none" stroke="#3a3a3a" stroke-width="0.9"/>
<rect x="466.5" y="248.8" width="4" height="4" fill="none" stroke="#3a3a3a" stroke-width="0.9"/>
<rect x="480.5" y="201.4" width="4" height="4" fill="none" stroke="#3a3a3a" stroke-width="0.9"/>
<rect x="494.5" y="245.38" width="4" height="4" fill="none" stroke="#3a3a3a" stroke-width="0.9"/>
<rect x="508.5" y="241.49" width="4" height="4" fill="none" stroke="#3a3a3a" stroke-width="0.9"/>
<rect x="522.5" y="233.62" width="4" height="4" fill="none" stroke="#3a3a3a" stroke-width="0.9"/>
<rect x="536.5" y="238.12" width="4" height="4" fill="none" stroke="#3a3a3a" stroke-width="0.9"/>
<path d="M412.5 281.29L426.5 287.71L440.5 278.29L454.5 274.92L468.5 281.29L482.5 238.39L496.5 289.82L510.5 279.42L524.5 267.38L538.5 270.8" fill="none" stroke="#5a56e8" stroke-width="0.9"/>
<path d="M412.5 278.39L415.3 283.29L409.7 283.29Z" fill="none" stroke="#5a56e8" stroke-width="0.9"/>
<path d="M426.5 284.81L429.3 289.71L423.7 289.71Z" fill="none" stroke="#5a56e8" stroke-width="0.9"/>
<path d="M440.5 275.39L443.3 280.29L437.7 280.29Z" fill="none" stroke="#5a56e8" stroke-width="0.9"/>
<path d="M454.5 272.02L457.3 276.92L451.7 276.92Z" fill="none" stroke="#5a56e8" stroke-width="0.9"/>
<path d="M468.5 278.39L471.3 283.29L465.7 283.29Z" fill="none" stroke="#5a56e8" stroke-width="0.9"/>
<path d="M482.5 235.49L485.3 240.39L479.7 240.39Z" fill="none" stroke="#5a56e8" stroke-width="0.9"/>
<path d="M496.5 286.92L499.3 291.82L493.7 291.82Z" fill="none" stroke="#5a56e8" stroke-width="0.9"/>
<path d="M510.5 276.52L513.3 281.42L507.7 281.42Z" fill="none" stroke="#5a56e8" stroke-width="0.9"/>
<path d="M524.5 264.48L527.3 269.38L521.7 269.38Z" fill="none" stroke="#5a56e8" stroke-width="0.9"/>
<path d="M538.5 267.9L541.3 272.8L535.7 272.8Z" fill="none" stroke="#5a56e8" stroke-width="0.9"/>
<path d="M412.5 262.65L426.5 281.81L440.5 276.09L454.5 272.58L468.5 277.78L482.5 220.82L496.5 281.81L510.5 276L524.5 256.51L538.5 257.31" fill="none" stroke="#e64a64" stroke-width="0.9"/>
<circle cx="412.5" cy="262.65" r="2.5" fill="none" stroke="#e64a64" stroke-width="0.9"/>
<circle cx="426.5" cy="281.81" r="2.5" fill="none" stroke="#e64a64" stroke-width="0.9"/>
<circle cx="440.5" cy="276.09" r="2.5" fill="none" stroke="#e64a64" stroke-width="0.9"/>
<circle cx="454.5" cy="272.58" r="2.5" fill="none" stroke="#e64a64" stroke-width="0.9"/>
<circle cx="468.5" cy="277.78" r="2.5" fill="none" stroke="#e64a64" stroke-width="0.9"/>
<circle cx="482.5" cy="220.82" r="2.5" fill="none" stroke="#e64a64" stroke-width="0.9"/>
<circle cx="496.5" cy="281.81" r="2.5" fill="none" stroke="#e64a64" stroke-width="0.9"/>
<circle cx="510.5" cy="276" r="2.5" fill="none" stroke="#e64a64" stroke-width="0.9"/>
<circle cx="524.5" cy="256.51" r="2.5" fill="none" stroke="#e64a64" stroke-width="0.9"/>
<circle cx="538.5" cy="257.31" r="2.5" fill="none" stroke="#e64a64" stroke-width="0.9"/>
<path d="M412.5 296.09L426.5 301.29L440.5 284.38L454.5 274.31L468.5 280.4L482.5 246.02L496.5 297.4L510.5 283.31L524.5 280.5L538.5 287.8" fill="none" stroke="#dc44e0" stroke-width="0.9"/>
<path d="M410.5 294.09L414.5 298.09M414.5 294.09L410.5 298.09" stroke="#dc44e0" stroke-width="0.9"/>
<path d="M424.5 299.29L428.5 303.29M428.5 299.29L424.5 303.29" stroke="#dc44e0" stroke-width="0.9"/>
<path d="M438.5 282.38L442.5 286.38M442.5 282.38L438.5 286.38" stroke="#dc44e0" stroke-width="0.9"/>
<path d="M452.5 272.31L456.5 276.31M456.5 272.31L452.5 276.31" stroke="#dc44e0" stroke-width="0.9"/>
<path d="M466.5 278.4L470.5 282.4M470.5 278.4L466.5 282.4" stroke="#dc44e0" stroke-width="0.9"/>
<path d="M480.5 244.02L484.5 248.02M484.5 244.02L480.5 248.02" stroke="#dc44e0" stroke-width="0.9"/>
<path d="M494.5 295.4L498.5 299.4M498.5 295.4L494.5 299.4" stroke="#dc44e0" stroke-width="0.9"/>
<path d="M508.5 281.31L512.5 285.31M512.5 281.31L508.5 285.31" stroke="#dc44e0" stroke-width="0.9"/>
<path d="M522.5 278.5L526.5 282.5M526.5 278.5L522.5 282.5" stroke="#dc44e0" stroke-width="0.9"/>
<path d="M536.5 285.8L540.5 289.8M540.5 285.8L536.5 289.8" stroke="#dc44e0" stroke-width="0.9"/>
<path d="M79.5 10.7H103" stroke="#3a3a3a" stroke-width="1" stroke-opacity="0.7"/>
<rect x="89.3" y="9" width="3.4" height="3.4" fill="none" stroke="#3a3a3a" stroke-width="0.9"/>
<text class="lg" x="105.3" y="14.6">Original</text>
<path d="M184.8 10.7H208.5" stroke="#5a56e8" stroke-width="1" stroke-opacity="0.7"/>
<path d="M196.5 8.23L198.88 12.4L194.12 12.4Z" fill="none" stroke="#5a56e8" stroke-width="0.9"/>
<text class="lg" x="211" y="14.6">WD-PCA</text>
<path d="M298.9 10.7H323.5" stroke="#e64a64" stroke-width="1" stroke-opacity="0.7"/>
<circle cx="310.5" cy="10.7" r="2.12" fill="none" stroke="#e64a64" stroke-width="0.9"/>
<text class="lg" x="325.4" y="14.6">EMD-PCA</text>
<path d="M404.8 10.7H428.5" stroke="#dc44e0" stroke-width="1" stroke-opacity="0.7"/>
<path d="M414.8 9L418.2 12.4M418.2 9L414.8 12.4" stroke="#dc44e0" stroke-width="0.9"/>
<text class="lg" x="430.6" y="14.6">Our method</text>
</svg>
</body></html>
